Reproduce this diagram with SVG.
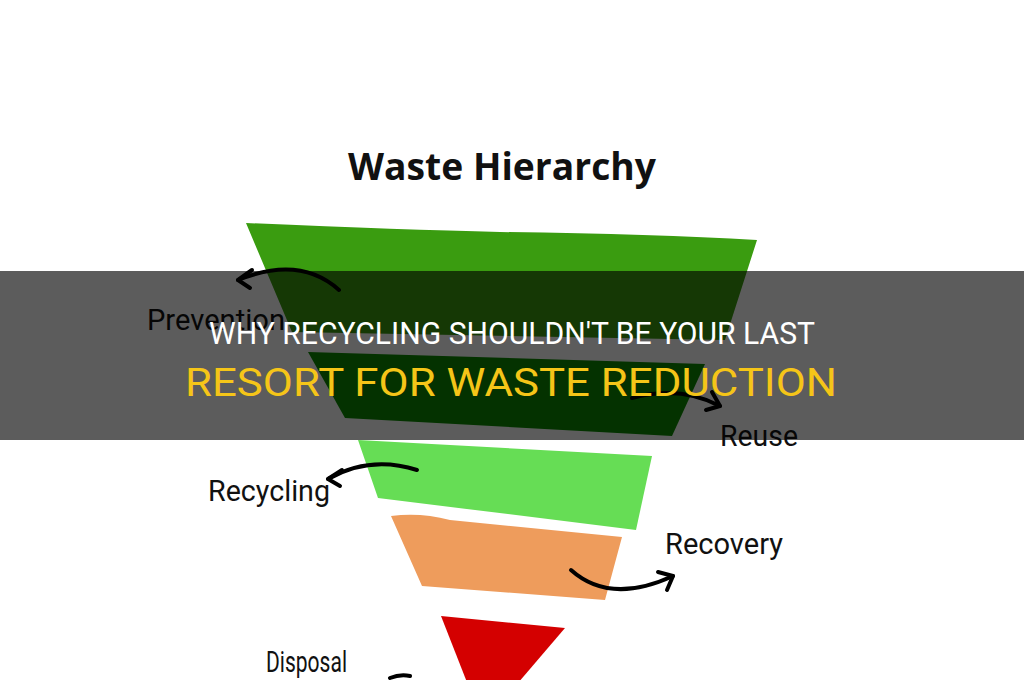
<svg xmlns="http://www.w3.org/2000/svg" width="1024" height="680" viewBox="0 0 1024 680">
<style>
.lbl{font-family:"Roboto","Liberation Sans",sans-serif;font-size:29px;fill:#111}
.arr{fill:none;stroke:#000;stroke-width:4;stroke-linecap:round}
</style>
<rect width="1024" height="680" fill="#fff"/>
<text x="502" y="180" text-anchor="middle" font-family="'Open Sans','Liberation Sans',sans-serif" font-weight="bold" font-size="38" fill="#111" textLength="308" lengthAdjust="spacingAndGlyphs">Waste Hierarchy</text>
<g id="prevention"><path d="M246,223 Q400,230 500,232 Q650,234 757,240 L725,340 L292,332 Z" fill="#3a9c10"/><text class="lbl" x="147" y="330" textLength="138" lengthAdjust="spacingAndGlyphs">Prevention</text></g>
<g id="reuse"><path d="M308,352 L705,364 L672,436 L345,418 Z" fill="#0c8c00"/><text class="lbl" x="720" y="446" textLength="78" lengthAdjust="spacingAndGlyphs">Reuse</text></g>
<g id="recycling"><path d="M358,440 L652,456 L636,530 L378,498 Z" fill="#66dd55"/><text class="lbl" x="208" y="501" textLength="122" lengthAdjust="spacingAndGlyphs">Recycling</text></g>
<g id="recovery"><path d="M391,516 Q420,512 450,520 L622,537 L605,600 L422,586 Z" fill="#ee9c5c"/><text class="lbl" x="665" y="554" textLength="118" lengthAdjust="spacingAndGlyphs">Recovery</text></g>
<g id="disposal"><path d="M441,616 L565,628 L512,690 L470,690 Z" fill="#d40000"/><text class="lbl" x="266" y="672" font-size="31" textLength="81" lengthAdjust="spacingAndGlyphs">Disposal</text></g>
<g id="connectors">
<path class="arr" d="M339,290 Q300,255 238,280"/><path class="arr" d="M238,280 L252,270 M238,280 L250,288"/>
<path class="arr" d="M632,398 Q680,385 720,406"/><path class="arr" d="M720,406 L712,392 M720,406 L706,410"/>
<path class="arr" d="M417,470 Q370,455 328,479"/><path class="arr" d="M328,479 L342,470 M328,479 L340,486"/>
<path class="arr" d="M571,570 Q610,605 673,576"/><path class="arr" d="M673,576 L658,572 M673,576 L667,590"/>
<path class="arr" d="M390,678 Q400,674 410,676"/>
</g>
<rect x="0" y="271" width="1024" height="169" fill="#000" fill-opacity="0.64"/>
<text x="512" y="344" text-anchor="middle" font-family="Roboto,'Liberation Sans',sans-serif" font-size="32" fill="#fff" textLength="606" lengthAdjust="spacingAndGlyphs">WHY RECYCLING SHOULDN'T BE YOUR LAST</text>
<text x="511" y="396" text-anchor="middle" font-family="Roboto,'Liberation Sans',sans-serif" font-size="39" fill="#f5c518" textLength="652" lengthAdjust="spacingAndGlyphs">RESORT FOR WASTE REDUCTION</text>
</svg>
